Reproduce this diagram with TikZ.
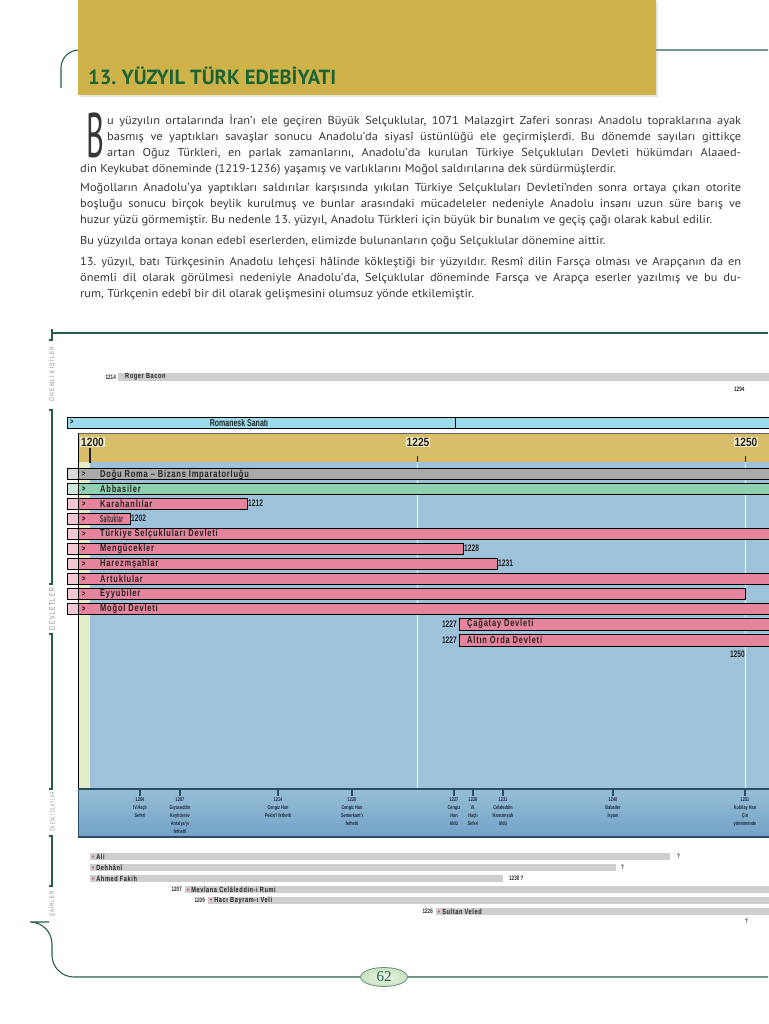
\documentclass[tikz,border=0pt]{standalone}
\usepackage{fontspec}
\usepackage{graphicx}
\setmainfont{PT Sans}[FakeStretch=1.08]
\newfontfamily\titlefont{PT Sans}
\newfontfamily\barfont{Liberation Sans}[FakeStretch=0.75,LetterSpace=8]
\newfontfamily\condfont{Liberation Sans}[FakeStretch=0.7]
\newfontfamily\numfont{Liberation Sans}[FakeStretch=0.85]
\newfontfamily\sidefont{Liberation Sans}[LetterSpace=25]
\newfontfamily\pagefont{Liberation Serif}
\usetikzlibrary{positioning, shapes.geometric, shadows}

\definecolor{headgold}{RGB}{207,178,74}
\definecolor{titlegreen}{RGB}{26,100,52}
\definecolor{framegreen}{RGB}{38,95,72}
\definecolor{bodytext}{RGB}{55,55,55}
\definecolor{yeargold}{RGB}{217,190,105}
\definecolor{yearlabel}{RGB}{242,232,195}
\definecolor{gridblue}{RGB}{158,194,217}
\definecolor{stripgreen}{RGB}{228,236,200}
\definecolor{statepink}{RGB}{229,132,156}
\definecolor{stategreen}{RGB}{143,207,178}
\definecolor{stategrey}{RGB}{170,170,170}
\definecolor{romancyan}{RGB}{155,221,236}
\definecolor{lightbar}{RGB}{206,206,206}
\definecolor{inkdark}{RGB}{35,35,35}
\definecolor{eventink}{RGB}{30,40,60}
\definecolor{evtop}{RGB}{150,190,215}
\definecolor{evbottom}{RGB}{115,162,198}
\definecolor{evline}{RGB}{45,75,100}
\definecolor{poetred}{RGB}{215,40,70}
\definecolor{sidegrey}{RGB}{135,135,135}
\definecolor{pagefill}{RGB}{200,225,190}

\newcommand\fitline[2]{\makebox[#1][s]{#2}}

\begin{document}
\frenchspacing
\begin{tikzpicture}[x=1pt, y=-1pt,
  bodyline/.style={anchor=base west, inner sep=0pt, text=bodytext, font=\fontsize{11.5}{16}\selectfont},
  frame/.style={draw=framegreen, line width=1.1pt},
  sidelabel/.style={rotate=90, inner sep=0pt, text=sidegrey, font=\sidefont\fontsize{6}{6}\selectfont},
  statebar/.style={draw=black, line width=0.6pt},
  barlabel/.style={anchor=west, inner sep=0pt, text=inkdark, font=\barfont\bfseries\fontsize{10}{10}\selectfont},
  endyear/.style={anchor=west, inner sep=0pt, text=inkdark, font=\condfont\bfseries\fontsize{9.5}{10}\selectfont},
  yearnum/.style={inner sep=1pt, fill=yearlabel, text=inkdark, font=\numfont\bfseries\fontsize{12}{12}\selectfont},
  smallnum/.style={inner sep=0pt, text=inkdark, font=\condfont\bfseries\fontsize{6.5}{7}\selectfont},
  poetlabel/.style={anchor=west, inner sep=0pt, text=inkdark, font=\barfont\bfseries\fontsize{7.5}{7.5}\selectfont},
  eventtext/.style={anchor=north, align=center, inner sep=0pt, text=eventink, font=\condfont\bfseries\fontsize{5.5}{8}\selectfont}
]
\useasboundingbox (0,0) rectangle (768,1024);

% header
\draw[frame, rounded corners=18pt] (61,88) -- (61,50) -- (768,50);
\fill[headgold, drop shadow={shadow xshift=2pt, shadow yshift=-2pt, opacity=0.2}] (78,0) rectangle (656,95);
\node[anchor=base west, inner sep=0pt, text=titlegreen, font=\titlefont\bfseries\fontsize{20.5}{21}\selectfont] (title) at (88,85) {13. YÜZYIL TÜRK EDEBİYATI};

% text
\node[anchor=base west, inner sep=0pt, text=bodytext, font=\fontsize{63}{63}\selectfont] (dropcap) at (86,158) {\scalebox{0.45}[1]{B}};
\node[bodyline] (p1a) at (107,125) {\fitline{634pt}{u yüzyılın ortalarında İran’ı ele geçiren Büyük Selçuklular, 1071 Malazgirt Zaferi sonrası Anadolu topraklarına ayak}};
\node[bodyline] (p1b) at (107,141) {\fitline{634pt}{basmış ve yaptıkları savaşlar sonucu Anadolu’da siyasî üstünlüğü ele geçirmişlerdi. Bu dönemde sayıları gittikçe}};
\node[bodyline] (p1c) at (107,157) {\fitline{634pt}{artan Oğuz Türkleri, en parlak zamanlarını, Anadolu’da kurulan Türkiye Selçukluları Devleti hükümdarı Alaaed-}};
\node[bodyline] (p1d) at (80,173) {din Keykubat döneminde (1219-1236) yaşamış ve varlıklarını Moğol saldırılarına dek sürdürmüşlerdir.};
\node[bodyline] (p2a) at (80,192) {\fitline{661pt}{Moğolların Anadolu’ya yaptıkları saldırılar karşısında yıkılan Türkiye Selçukluları Devleti’nden sonra ortaya çıkan otorite}};
\node[bodyline] (p2b) at (80,208) {\fitline{661pt}{boşluğu sonucu birçok beylik kurulmuş ve bunlar arasındaki mücadeleler nedeniyle Anadolu insanı uzun süre barış ve}};
\node[bodyline] (p2c) at (80,224) {huzur yüzü görmemiştir. Bu nedenle 13. yüzyıl, Anadolu Türkleri için büyük bir bunalım ve geçiş çağı olarak kabul edilir.};
\node[bodyline] (p3a) at (80,244) {Bu yüzyılda ortaya konan edebî eserlerden, elimizde bulunanların çoğu Selçuklular dönemine aittir.};
\node[bodyline] (p4a) at (80,265) {\fitline{661pt}{13. yüzyıl, batı Türkçesinin Anadolu lehçesi hâlinde kökleştiği bir yüzyıldır. Resmî dilin Farsça olması ve Arapçanın da en}};
\node[bodyline] (p4b) at (80,281) {\fitline{661pt}{önemli dil olarak görülmesi nedeniyle Anadolu’da, Selçuklular döneminde Farsça ve Arapça eserler yazılmış ve bu du-}};
\node[bodyline] (p4c) at (80,297) {rum, Türkçenin edebî bir dil olarak gelişmesini olumsuz yönde etkilemiştir.};

% left rule and section labels
\draw[frame] (52,333) -- (768,333);
\draw[frame] (52,329) -- (52,340) -- (49,340);
\node[sidelabel] (sideKisiler) at (52,374) {\resizebox{55pt}{5.5pt}{ÖNEMLİ KİŞİLER}};
\draw[frame] (49,410) -- (52,410) -- (52,584) -- (49,584);
\node[sidelabel] (sideDevlet) at (52,609) {\resizebox{42pt}{5.5pt}{DEVLETLER}};
\draw[frame] (49,634) -- (52,634) -- (52,789) -- (49,789);
\node[sidelabel] (sideOlay) at (52,812) {\resizebox{39pt}{5.5pt}{ÖNEMLİ OLAYLAR}};
\draw[frame] (49,836) -- (52,836) -- (52,886) -- (49,886);
\node[sidelabel] (sideSair) at (52,904) {\resizebox{25pt}{5.5pt}{ŞAİRLER}};
\draw[frame, rounded corners=22pt] (49,922) -- (52,922) -- (52,977) -- (768,977);

% important people
\fill[lightbar] (118,373) rectangle (772,381);
\node[smallnum, anchor=east] (baconStart) at (116,377) {1214};
\node[poetlabel] (bacon) at (125,377) {Roger Bacon};
\node[smallnum, anchor=west] (baconEnd) at (734,389) {1294};

% romanesque art
\draw[statebar, fill=romancyan] (67,417) rectangle (772,428);
\draw[statebar] (455,417) -- (455,428);
\node[anchor=west, inner sep=0pt, font=\condfont\bfseries\fontsize{8}{8}\selectfont] (romArrow) at (70,422.5) {>};
\node[inner sep=0pt, text=inkdark, font=\condfont\bfseries\fontsize{10}{10}\selectfont] (romanesk) at (239,422.5) {Romanesk Sanatı};

% year scale and grid
\fill[yeargold] (78,433) rectangle (772,462);
\draw[black!60, line width=0.8pt] (78,433) -- (772,433);
\fill[stripgreen] (78,462) rectangle (90,789);
\fill[gridblue] (90,462) rectangle (772,789);
\draw[white, line width=1pt] (417,462) -- (417,789);
\draw[white, line width=1pt] (745,462) -- (745,789);
\draw[black, line width=0.8pt] (78,433) -- (78,789);
\draw[inkdark, line width=1.2pt] (90,448) -- (90,463);
\draw[inkdark, line width=1pt] (417,456) -- (417,462);
\draw[inkdark, line width=1pt] (745,456) -- (745,462);
\node[yearnum, anchor=west] (y1200) at (80,442) {1200};
\node[yearnum] (y1225) at (418,442) {1225};
\node[yearnum] (y1250) at (746,442) {1250};

% states
\foreach \row/\barend/\col/\name in {
  0/772/stategrey/{Doğu Roma – Bizans İmparatorluğu},
  1/772/stategreen/{Abbasiler},
  2/247/statepink/{Karahanlılar},
  3/130/statepink/{\scalebox{0.6}[1]{Saltuklar}},
  4/772/statepink/{Türkiye Selçukluları Devleti},
  5/463/statepink/{Mengücekler},
  6/497/statepink/{Harezmşahlar},
  7/772/statepink/{Artuklular},
  8/745/statepink/{Eyyubiler},
  9/772/statepink/{Moğol Devleti}} {
  \draw[statebar, fill=\col!45!white] (67,468+15*\row) rectangle (78,479+15*\row);
  \draw[statebar, fill=\col] (78,468+15*\row) rectangle (\barend,479+15*\row);
  \node[anchor=west, inner sep=0pt, font=\condfont\bfseries\fontsize{8}{8}\selectfont] (arrow\row) at (82,474+15*\row) {>};
  \node[barlabel] (state\row) at (100,474+15*\row) {\name};
}
\node[endyear] (end1212) at (248,503.5) {1212};
\node[endyear] (end1202) at (131,518.5) {1202};
\node[endyear] (end1228) at (464,548.5) {1228};
\node[endyear] (end1231) at (498,563.5) {1231};

\draw[statebar, fill=statepink] (459,618) rectangle (772,630);
\node[barlabel] (cagatay) at (467,624) {Çağatay Devleti};
\node[endyear, anchor=east] (start1227a) at (457,624) {1227};
\draw[statebar, fill=statepink] (459,634) rectangle (772,646);
\node[barlabel] (altinorda) at (467,640) {Altın Orda Devleti};
\node[endyear, anchor=east] (start1227b) at (457,640) {1227};
\node[endyear, anchor=east] (end1250) at (745,654) {1250};

% events
\shade[top color=evtop, middle color=white!92!evtop, bottom color=evbottom] (78,789) rectangle (772,837);
\draw[evline, line width=1.3pt] (78,789) -- (772,789);
\draw[evline, line width=1.3pt] (78,837) -- (772,837);
\draw[evline, line width=0.8pt] (78,789) -- (78,837);
\foreach \ex in {140,180,278,352,454,473,503,613,745}
  \draw[evline, line width=1.2pt] (\ex,790) -- (\ex,796);
\node[eventtext] (ev1204) at (140,797) {1204\\IV.Haçlı\\Seferi};
\node[eventtext] (ev1207) at (180,797) {1207\\Gıyaseddin\\Keyhüsrev\\Antalya’yı\\fethetti};
\node[eventtext] (ev1214) at (278,797) {1214\\Cengiz Han\\Pekin’i fethetti};
\node[eventtext] (ev1220) at (352,797) {1220\\Cengiz Han\\Semerkant’ı\\fethetti};
\node[eventtext] (ev1227) at (454,797) {1227\\Cengiz\\Han\\öldü};
\node[eventtext] (ev1228) at (473,797) {1228\\VI.\\Haçlı\\Seferi};
\node[eventtext] (ev1231) at (503,797) {1231\\Celaleddin\\Harezmşah\\öldü};
\node[eventtext] (ev1240) at (613,797) {1240\\Babailer\\İsyanı};
\node[eventtext] (ev1251) at (745,797) {1251\\Kubilay Han\\Çin\\yönetiminde};

% poets
\fill[lightbar] (90,853) rectangle (670,860);
\node[poetlabel] (ali) at (92,856.5) {\textcolor{poetred}{•} Ali};
\node[smallnum, anchor=west] (aliEnd) at (677,856.5) {?};
\fill[lightbar] (90,864) rectangle (616,871);
\node[poetlabel] (dehhani) at (92,867.5) {\textcolor{poetred}{•} Dehhânî};
\node[smallnum, anchor=west] (dehhaniEnd) at (621,867.5) {?};
\fill[lightbar] (90,875) rectangle (503,882);
\node[poetlabel] (ahmed) at (92,878.5) {\textcolor{poetred}{•} Ahmed Fakih};
\node[smallnum, anchor=west] (ahmedEnd) at (509,878.5) {1230 ?};
\fill[lightbar] (185,886) rectangle (772,893);
\node[smallnum, anchor=east] (mevlanaStart) at (182,889.5) {1207};
\node[poetlabel] (mevlana) at (187,889.5) {\textcolor{poetred}{•} Mevlana Celâleddin-i Rumi};
\fill[lightbar] (208,897) rectangle (772,904);
\node[smallnum, anchor=east] (haciStart) at (205,900.5) {1209};
\node[poetlabel] (haci) at (210,900.5) {\textcolor{poetred}{•} Hacı Bayram-ı Veli};
\fill[lightbar] (436,908) rectangle (772,915);
\node[smallnum, anchor=east] (veledStart) at (433,911.5) {1226};
\node[poetlabel] (veled) at (438,911.5) {\textcolor{poetred}{•} Sultan Veled};
\node[smallnum, anchor=west] (veledEnd) at (745,921.5) {?};

% page number
\node[ellipse, draw=framegreen!70, line width=0.8pt, inner color=white!70!pagefill, outer color=pagefill, minimum width=47pt, minimum height=19pt, inner sep=0pt, text=framegreen, font=\pagefont\fontsize{15}{15}\selectfont] (pagenum) at (384,977) {62};
\end{tikzpicture}
\end{document}
